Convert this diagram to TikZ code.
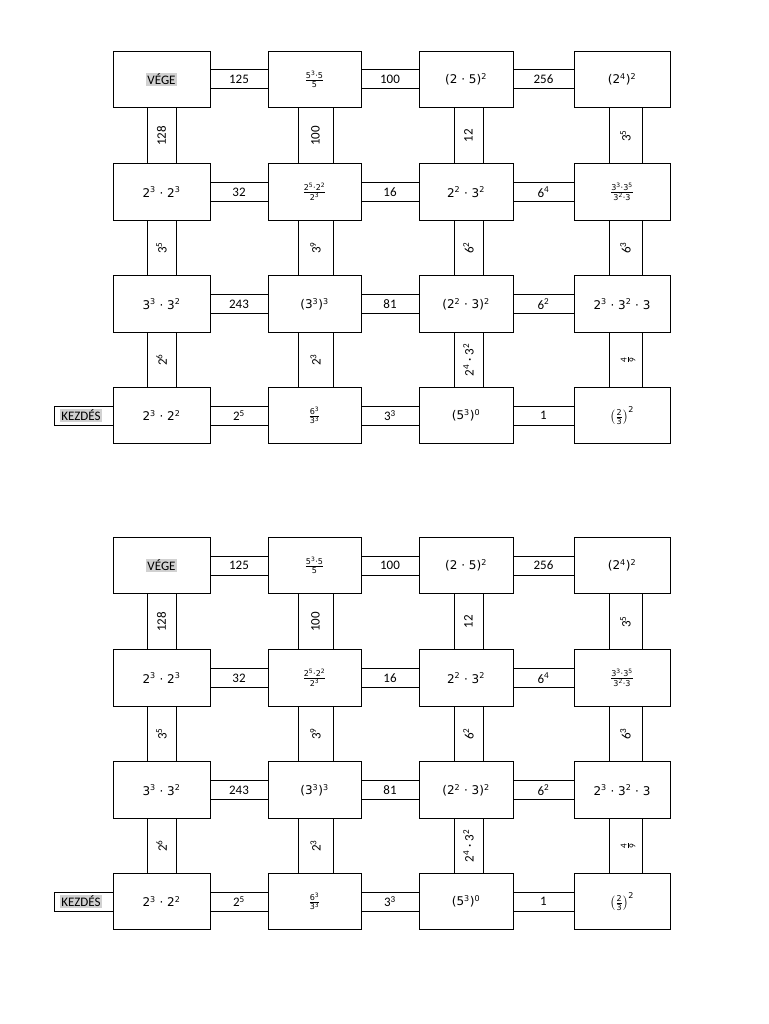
\documentclass[tikz,border=0pt]{standalone}
\usepackage{fontspec}
\usepackage{amsmath}
\setmainfont{Carlito}
\newfontfamily\vf{DejaVu Sans}
\usetikzlibrary{calc}
\definecolor{hlgray}{gray}{0.82}
\newcommand\pw[1]{\textsuperscript{#1}}
\newcommand\hlbox[1]{{\setlength{\fboxsep}{1pt}\colorbox{hlgray}{#1}}}
\newcommand\fr[2]{$\frac{\text{#1}}{\text{#2}}$}
\tikzset{
  box/.style={draw, line width=1pt, inner sep=0pt, minimum height=56.5pt, font=\vf\fontsize{12}{14}\selectfont},
  lbl/.style={inner sep=0pt, font=\fontsize{13}{15}\selectfont},
  con/.style={draw, line width=1pt}
}
% horizontal connector: from, to, label
\newcommand\hcon[3]{%
  \path[con] ([yshift=9.5pt]#1.east) -- ([yshift=9.5pt]#2.west)
             ([yshift=-9.5pt]#1.east) -- ([yshift=-9.5pt]#2.west);
  \node[lbl] at ($(#1.east)!0.5!(#2.west)$) {#3};}
% vertical connector: from, to, left shift, right shift, label shift, label
\newcommand\vcon[6]{%
  \path[con] ([xshift=#3pt]#1.south) -- ([xshift=#3pt]#2.north)
             ([xshift=#4pt]#1.south) -- ([xshift=#4pt]#2.north);
  \node[lbl, rotate=90] at ($(#1.south)!0.5!(#2.north)+(#5,0)$) {#6};}
\newcommand\mazegrid[1]{%
  % row 1
  \node[box, minimum width=97pt] (#1-11) at (161.5,79.5) {\rmfamily\fontsize{13}{15}\selectfont\hlbox{VÉGE}};
  \node[box, minimum width=93pt] (#1-12) at (314.5,79.5) {\fr{5\pw{3}·5}{5}};
  \node[box, minimum width=94pt] (#1-13) at (466,79.5) {(2 · 5)\pw{2}};
  \node[box, minimum width=96pt] (#1-14) at (622,79.5) {(2\pw{4})\pw{2}};
  % row 2
  \node[box, minimum width=97pt] (#1-21) at (161.5,192) {2\pw{3} · 2\pw{3}};
  \node[box, minimum width=93pt] (#1-22) at (314.5,192) {\fr{2\pw{5}·2\pw{2}}{2\pw{3}}};
  \node[box, minimum width=94pt] (#1-23) at (466,192) {2\pw{2} · 3\pw{2}};
  \node[box, minimum width=96pt] (#1-24) at (622,192) {\fr{3\pw{3}·3\pw{5}}{3\pw{2}·3}};
  % row 3
  \node[box, minimum width=97pt] (#1-31) at (161.5,304) {3\pw{3} · 3\pw{2}};
  \node[box, minimum width=93pt] (#1-32) at (314.5,304) {(3\pw{3})\pw{3}};
  \node[box, minimum width=94pt] (#1-33) at (466,304) {(2\pw{2} · 3)\pw{2}};
  \node[box, minimum width=96pt] (#1-34) at (622,304) {2\pw{3} · 3\pw{2} · 3};
  % row 4
  \node[box, minimum width=97pt] (#1-41) at (161.5,415.5) {2\pw{3} · 2\pw{2}};
  \node[box, minimum width=93pt] (#1-42) at (314.5,415.5) {\fr{6\pw{3}}{3\pw{3}}};
  \node[box, minimum width=94pt] (#1-43) at (466,415.5) {(5\pw{3})\pw{0}};
  \node[box, minimum width=96pt] (#1-44) at (622,415.5) {$\left(\frac{\text{2}}{\text{3}}\right)^{\text{2}}$};
  % horizontal connectors
  \hcon{#1-11}{#1-12}{125}\hcon{#1-12}{#1-13}{100}\hcon{#1-13}{#1-14}{256}
  \hcon{#1-21}{#1-22}{32}\hcon{#1-22}{#1-23}{16}\hcon{#1-23}{#1-24}{6\pw{4}}
  \hcon{#1-31}{#1-32}{243}\hcon{#1-32}{#1-33}{81}\hcon{#1-33}{#1-34}{6\pw{2}}
  \hcon{#1-41}{#1-42}{2\pw{5}}\hcon{#1-42}{#1-43}{3\pw{3}}\hcon{#1-43}{#1-44}{1}
  % vertical connectors
  \vcon{#1-11}{#1-21}{-14.5}{14.5}{0}{128}
  \vcon{#1-21}{#1-31}{-14.5}{14.5}{0}{3\pw{5}}
  \vcon{#1-31}{#1-41}{-14.5}{14.5}{0}{2\pw{6}}
  \vcon{#1-12}{#1-22}{-16.5}{18.5}{1}{100}
  \vcon{#1-22}{#1-32}{-16.5}{18.5}{1}{3\pw{9}}
  \vcon{#1-32}{#1-42}{-16.5}{18.5}{1}{2\pw{3}}
  \vcon{#1-13}{#1-23}{-12}{17}{2.5}{12}
  \vcon{#1-23}{#1-33}{-12}{17}{2.5}{6\pw{2}}
  \vcon{#1-33}{#1-43}{-12}{17}{2.5}{2\pw{4} · 3\pw{2}}
  \vcon{#1-14}{#1-24}{-13}{20}{3.5}{3\pw{5}}
  \vcon{#1-24}{#1-34}{-13}{20}{3.5}{6\pw{3}}
  \vcon{#1-34}{#1-44}{-13}{20}{6}{\fr{4}{9}}
  % start strip
  \coordinate (#1-k) at (54,415.5);
  \path[con] ([yshift=9.5pt]#1-41.west) -- ([yshift=9.5pt]#1-k) -- ([yshift=-9.5pt]#1-k) -- ([yshift=-9.5pt]#1-41.west);
  \node[lbl] (#1-kl) at (81,415.5) {\hlbox{KEZDÉS}};
}
\begin{document}
\begin{tikzpicture}[x=1pt, y=-1pt]
  \useasboundingbox (0,0) rectangle (768,1024);
  \mazegrid{a}
  \begin{scope}[yshift=-486pt]
    \mazegrid{b}
  \end{scope}
\end{tikzpicture}
\end{document}
